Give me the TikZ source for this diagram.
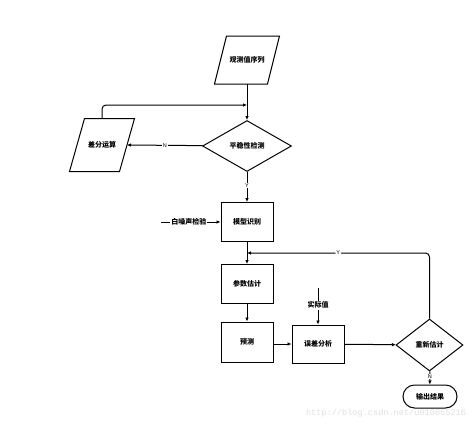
\documentclass[tikz,border=0pt]{standalone}
\usepackage{fontspec}
\setmainfont{Liberation Sans}
\newfontfamily\cjk{Noto Sans CJK SC}
\newfontfamily\wmfont{Liberation Mono}
\usetikzlibrary{arrows.meta,shapes.geometric,shapes.misc}
\begin{document}
\begin{tikzpicture}[x=1pt,y=-1pt,
  line width=1pt,
  arr/.style={-{Latex[length=4pt,width=3.6pt]}},
  proc/.style={draw,rectangle,minimum width=52pt,minimum height=39pt,inner sep=0pt,font=\cjk\fontsize{7}{8}\selectfont\bfseries},
  para/.style={rectangle,inner sep=0pt,font=\cjk\fontsize{7}{8}\selectfont\bfseries},
  dec/.style={draw,diamond,inner sep=0pt,font=\cjk\fontsize{7}{8}\selectfont\bfseries},
  term/.style={draw,rounded rectangle,minimum width=54pt,minimum height=23pt,inner sep=0pt,font=\cjk\fontsize{7}{8}\selectfont\bfseries},
  lab/.style={fill=white,inner sep=1pt,font=\fontsize{5.5}{6}\selectfont},
  clab/.style={fill=white,inner sep=1pt,font=\cjk\fontsize{7}{8}\selectfont\bfseries}]
\useasboundingbox[fill=white] (0,0) rectangle (474,424);

% watermark
\node[font=\wmfont\fontsize{8.6}{10}\selectfont,text=black!12,inner sep=0pt] (wm) at (386,413) {http://blog.csdn.net/u010665216};

% nodes
\node[para,minimum width=52pt,minimum height=47pt] (obs) at (247,60) {观测值序列};
\draw ([xshift=6pt]obs.north west) -- ([xshift=6pt]obs.north east) -- ([xshift=-6pt]obs.south east) -- ([xshift=-6pt]obs.south west) -- cycle;

\node[dec,minimum width=89pt,minimum height=51pt] (stat) at (247,146) {平稳性检测};

\node[para,minimum width=49pt,minimum height=52pt] (diff) at (102,145) {差分运算};
\draw ([xshift=7.5pt]diff.north west) -- ([xshift=7.5pt]diff.north east) -- ([xshift=-7.5pt]diff.south east) -- ([xshift=-7.5pt]diff.south west) -- cycle;

\node[proc] (model) at (247,222) {模型识别};
\node[proc] (param) at (247,284) {参数估计};
\node[proc,minimum height=40pt] (pred) at (247,342) {预测};
\node[proc,minimum height=38pt] (err) at (318,344) {误差分析};
\node[dec,minimum width=67pt,minimum height=52pt] (re) at (429.5,345) {重新估计};
\node[term,fill=white] (out) at (430,396.5) {输出结果};

\coordinate (j1) at (247,105);
\coordinate (j2) at (247,253);
\coordinate (wn) at (161,222);
\coordinate (act) at (318,288);

% connectors
\draw[arr] (obs) -- (stat);
\draw[arr,rounded corners=4pt] (diff.north) |- (j1);
\draw[arr] (stat) -- node[lab]{N} (diff.east);
\draw[arr] (stat) -- node[lab,pos=0.45]{Y} (model);
\draw[arr] (wn) -- node[clab,pos=0.47]{白噪声检验} (model);
\draw[arr] (model) -- (param);
\draw[arr,rounded corners=4pt] (re.north) |- node[lab,pos=0.75]{Y} (j2);
\draw[arr] (param) -- (pred);
\draw[arr] (pred.east |- err) -- (err);
\draw[arr] (act) -- node[clab,pos=0.47]{实际值} (err);
\draw[arr] (err) -- (re);
\draw[arr] (re) -- node[lab,pos=0.4]{N} (out);
\end{tikzpicture}
\end{document}
